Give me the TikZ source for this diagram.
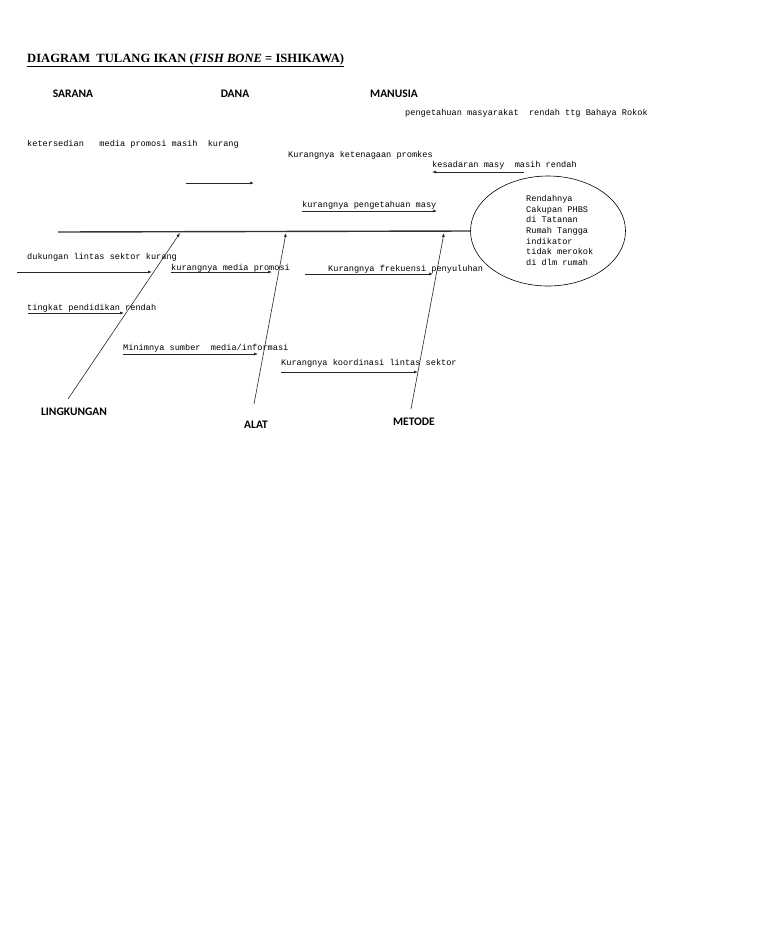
\documentclass[tikz,border=0pt]{standalone}
\usepackage{fontspec}
\setmainfont{Liberation Serif}
\setsansfont{Carlito}
\setmonofont{Liberation Mono}
\usepackage{tikz}
\usetikzlibrary{arrows.meta,positioning,shapes.geometric}

\begin{document}
\begin{tikzpicture}[
  x=1pt, y=-1pt,
  cat/.style={font=\sffamily\bfseries\fontsize{11.5}{13}\selectfont, inner sep=0pt},
  cause/.style={font=\ttfamily\fontsize{8.6}{10}\selectfont, anchor=base west, inner sep=0pt},
  ar/.style={-{Latex[length=4pt,width=3pt]}, line width=0.6pt, draw=black!85},
  spine/.style={line width=1.4pt, draw=black!80}]
\useasboundingbox (0,0) rectangle (768,932);

% judul
\node[anchor=base west, inner sep=0pt, font=\rmfamily\bfseries\fontsize{12.6}{14}\selectfont] (title) at (27,62)
  {\underline{DIAGRAM\ \ TULANG IKAN (\textit{FISH BONE} = ISHIKAWA)}};

% kategori
\node[cat] (sarana) at (73,94) {SARANA};
\node[cat] (dana) at (235,94) {DANA};
\node[cat] (manusia) at (394,94) {MANUSIA};
\node[cat] (lingkungan) at (74,412) {LINGKUNGAN};
\node[cat] (alat) at (256,425) {ALAT};
\node[cat] (metode) at (414,422) {METODE};

% akibat
\node[ellipse, draw, line width=0.6pt, minimum width=155pt, minimum height=110pt] (effect) at (548,231) {};
\node[cause, anchor=north west, align=left, font=\ttfamily\fontsize{8.6}{10.7}\selectfont] (effect-txt) at (526,195)
  {Rendahnya\\Cakupan PHBS\\di Tatanan\\Rumah Tangga\\indikator\\tidak merokok\\di dlm rumah};

% tulang utama
\coordinate (sp-tail) at (58,232);
\draw[spine] (sp-tail) -- (effect.west);

% tulang kategori
\coordinate (lk-tail) at (68,399);
\coordinate (lk-head) at (180,233);
\coordinate (al-tail) at (254,404);
\coordinate (al-head) at (286,233);
\coordinate (me-tail) at (411,409);
\coordinate (me-head) at (444,233);
\draw[ar] (lk-tail) -- (lk-head);
\draw[ar] (al-tail) -- (al-head);
\draw[ar] (me-tail) -- (me-head);

% penyebab
\node[cause] (c1) at (405,115) {pengetahuan masyarakat\ \ rendah ttg Bahaya Rokok};
\node[cause] (c2) at (27,146) {ketersedian\ \ \ media promosi masih\ \ kurang};
\node[cause] (c3) at (288,157) {Kurangnya ketenagaan promkes};
\node[cause] (c4) at (432,167) {kesadaran masy\ \ masih rendah};
\node[cause] (c5) at (302,207) {kurangnya pengetahuan masy};
\node[cause] (c6) at (27,259) {dukungan lintas sektor kurang};
\node[cause] (c7) at (171,270) {kurangnya media promosi};
\node[cause] (c8) at (328,271) {Kurangnya frekuensi penyuluhan};
\node[cause] (c9) at (27,310) {tingkat pendidikan rendah};
\node[cause] (c10) at (123,350) {Minimnya sumber\ \ media/informasi};
\node[cause] (c11) at (281,365) {Kurangnya koordinasi lintas sektor};

% panah penyebab
\coordinate (a4s) at (524,172);  \coordinate (a4e) at (432,172);
\coordinate (a0s) at (186,183);  \coordinate (a0e) at (254,183);
\coordinate (a5s) at (302,211);  \coordinate (a5e) at (437,211);
\coordinate (a6s) at (17,272);   \coordinate (a6e) at (152,272);
\coordinate (a7s) at (171,272);  \coordinate (a7e) at (272,272);
\coordinate (a8s) at (305,274);  \coordinate (a8e) at (433,274);
\coordinate (a9s) at (28,313);   \coordinate (a9e) at (124,313);
\coordinate (a10s) at (123,354); \coordinate (a10e) at (258,354);
\coordinate (a11s) at (281,372); \coordinate (a11e) at (418,372);
\foreach \i in {4,0,5,6,7,8,9,10,11}
  \draw[ar] (a\i s) -- (a\i e);
\end{tikzpicture}
\end{document}
